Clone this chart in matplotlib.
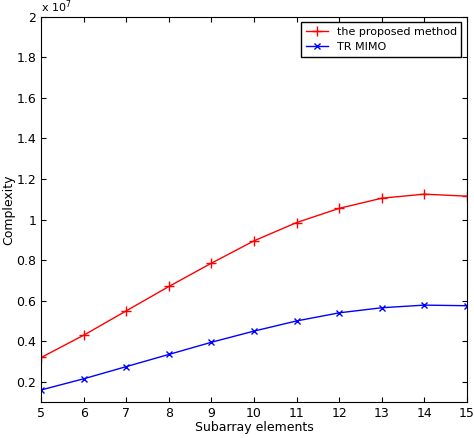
import matplotlib.pyplot as plt
from matplotlib.ticker import FuncFormatter

# data
elements = [5, 6, 7, 8, 9, 10, 11, 12, 13, 14, 15]
proposed = [0.32, 0.43, 0.55, 0.67, 0.785, 0.895, 0.985, 1.055, 1.105, 1.125, 1.115]
tr_mimo = [0.16, 0.215, 0.275, 0.335, 0.395, 0.45, 0.5, 0.54, 0.565, 0.578, 0.575]
y_ticks = [0.2, 0.4, 0.6, 0.8, 1, 1.2, 1.4, 1.6, 1.8, 2]

proposed = [v * 1e7 for v in proposed]
tr_mimo = [v * 1e7 for v in tr_mimo]

fig = plt.figure(figsize=(4.74, 4.38), dpi=100)
ax = fig.add_axes([0.087, 0.082, 0.898, 0.88])
ax.plot(elements, proposed, 'r-', marker='+', markersize=7, linewidth=1, label='the proposed method')
ax.plot(elements, tr_mimo, 'b-', marker='x', markersize=4, linewidth=1, label='TR MIMO')

ax.set_xlim(5, 15)
ax.set_ylim(0.1e7, 2e7)
ax.set_xticks(elements)
ax.set_yticks([v * 1e7 for v in y_ticks])
ax.yaxis.set_major_formatter(FuncFormatter(lambda v, p: ('%g' % round(v / 1e7, 2))))
ax.tick_params(direction='in', labelsize=9, top=True, right=True)
ax.set_xlabel('Subarray elements', fontsize=9, labelpad=1)
ax.set_ylabel('Complexity', fontsize=9, labelpad=1)
ax.text(0.0, 1.005, r'x 10$^7$', transform=ax.transAxes, fontsize=8, va='bottom')
ax.legend(loc='upper right', fontsize=8, fancybox=False, edgecolor='black', framealpha=1)

fig.savefig('out.png', dpi=100)
